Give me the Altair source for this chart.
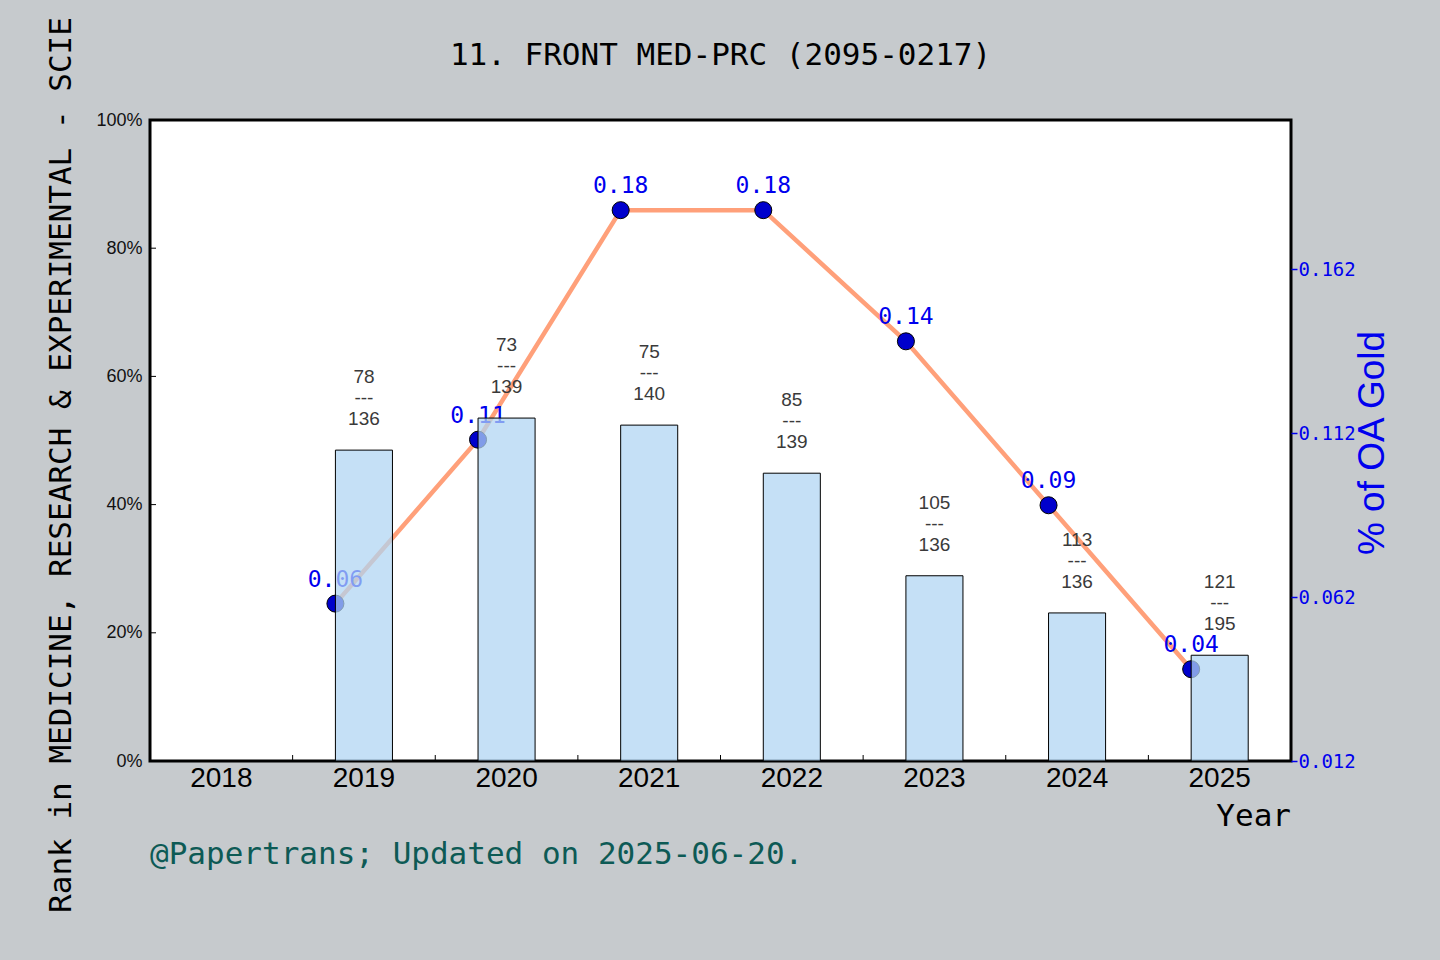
import altair as alt
import pandas as pd

# ---------------- data ----------------
years = [2018, 2019, 2020, 2021, 2022, 2023, 2024, 2025]
bar_years = [2019, 2020, 2021, 2022, 2023, 2024, 2025]
rank_pct = [0.485, 0.535, 0.524, 0.449, 0.289, 0.231, 0.165]
rank = [78, 73, 75, 85, 105, 113, 121]
total = [136, 139, 140, 139, 136, 136, 195]
oa_gold = [0.06, 0.11, 0.18, 0.18, 0.14, 0.09, 0.04]
oa_labels = ["0.06", "0.11", "0.18", "0.18", "0.14", "0.09", "0.04"]
left_ticks = [0.0, 0.2, 0.4, 0.6, 0.8, 1.0]
right_ticks = [0.012, 0.062, 0.112, 0.162]

title_text = "11. FRONT MED-PRC (2095-0217)"
left_title = "Rank in MEDICINE, RESEARCH & EXPERIMENTAL - SCIE"
right_title = "% of OA Gold"
x_title = "Year"
footer_text = "@Papertrans; Updated on 2025-06-20."

MONO = "DejaVu Sans Mono"
SANS = "Liberation Sans"
W, H = 1141, 641

bars_df = pd.DataFrame({
    "year": bar_years,
    "pct": rank_pct,
    "label": [f"{r}\n---\n{t}" for r, t in zip(rank, total)],
})
oa_df = pd.DataFrame({"year": bar_years, "oa": oa_gold, "lab": oa_labels})
lt_df = pd.DataFrame({"v": left_ticks})
xt_df = pd.DataFrame({"year": years})

xs = alt.Scale(type="band", domain=years, paddingInner=0, paddingOuter=0)
ys_left = alt.Scale(domain=[0, 1], nice=False, zero=False)
ys_right = alt.Scale(domain=[0.012, 0.2075], nice=False, zero=False)

x_axis = alt.Axis(title=None, labelFont=SANS, labelFontSize=28, labelColor="black",
                  ticks=False, domain=False, grid=False, labelPadding=3, labelAngle=0)

# ---------------- right-axis group (line + points) ----------------
line = alt.Chart(oa_df).mark_line(color="#ffa07a", strokeWidth=4.5).encode(
    x=alt.X("year:O", scale=xs, axis=x_axis, bandPosition=0.3),
    y=alt.Y("oa:Q", scale=ys_right,
            axis=alt.Axis(orient="right", title=None, values=right_ticks, format=".3f",
                          labelFont=MONO, labelFontSize=19, labelColor="#0000ee",
                          tickColor="#0000ee", tickSize=6, tickWidth=1.5,
                          domain=False, grid=False, labelPadding=1)),
)
points = alt.Chart(oa_df).mark_point(filled=True, shape="circle", size=290,
                                      fill="#0000cc", stroke="black",
                                      strokeWidth=1, opacity=1).encode(
    x=alt.X("year:O", scale=xs, bandPosition=0.3),
    y=alt.Y("oa:Q", scale=ys_right),
)
point_labels = alt.Chart(oa_df).mark_text(font=MONO, fontSize=23, color="#0000ee",
                                          baseline="middle", dy=-24).encode(
    x=alt.X("year:O", scale=xs, bandPosition=0.3),
    y=alt.Y("oa:Q", scale=ys_right),
    text="lab:N",
)
right_group = alt.layer(line, points, point_labels)

# ---------------- left-axis group (bars) ----------------
bars = alt.Chart(bars_df).mark_bar(width=alt.RelativeBandSize(0.4), fill="#b0d5f3",
                                   fillOpacity=0.735, stroke="black",
                                   strokeWidth=1).encode(
    x=alt.X("year:O", scale=xs),
    y=alt.Y("pct:Q", scale=ys_left,
            axis=alt.Axis(orient="left", title=None, values=left_ticks, format=".0%",
                          labelFont=SANS, labelFontSize=18, labelColor="#111111",
                          ticks=False, domain=False, grid=False, labelPadding=8)),
)
bar_labels = alt.Chart(bars_df).mark_text(font=SANS, fontSize=19, color="#3a3a3a",
                                          lineBreak="\n", lineHeight=21,
                                          baseline="middle", dy=-73).encode(
    x=alt.X("year:O", scale=xs),
    y=alt.Y("pct:Q", scale=ys_left),
    text="label:N",
)
left_ticks_rule = alt.Chart(lt_df).mark_rule(color="black", strokeWidth=1).encode(
    y=alt.Y("v:Q", scale=ys_left),
    x=alt.value(0), x2=alt.value(6),
)
x_ticks_rule = alt.Chart(xt_df).mark_rule(color="black", strokeWidth=1).encode(
    x=alt.X("year:O", scale=xs, bandPosition=0),
    y=alt.value(H), y2=alt.value(H - 6),
)

# ---------------- text annotations ----------------
def txt(s):
    return alt.Chart(pd.DataFrame({"t": [s]}))

title_mark = txt(title_text).mark_text(font=MONO, fontSize=31, color="black",
                                       align="center", baseline="middle").encode(
    text="t:N", x=alt.value(W / 2), y=alt.value(-64))
left_title_mark = txt(left_title).mark_text(font=MONO, fontSize=31, color="black",
                                            align="center", baseline="middle",
                                            angle=270).encode(
    text="t:N", x=alt.value(-88), y=alt.value(345))
right_title_mark = txt(right_title).mark_text(font=SANS, fontSize=37, color="#0000ee",
                                              align="center", baseline="middle",
                                              angle=270).encode(
    text="t:N", x=alt.value(1223), y=alt.value(323))
x_title_mark = txt(x_title).mark_text(font=MONO, fontSize=31, color="black",
                                      align="right", baseline="middle").encode(
    text="t:N", x=alt.value(W), y=alt.value(697))
footer_mark = txt(footer_text).mark_text(font=MONO, fontSize=31, color="#0d5a55",
                                         align="left", baseline="middle").encode(
    text="t:N", x=alt.value(0), y=alt.value(735))

left_group = alt.layer(bars, bar_labels, left_ticks_rule, x_ticks_rule,
                       title_mark, left_title_mark, right_title_mark,
                       x_title_mark, footer_mark)

chart = alt.layer(right_group, left_group).resolve_scale(
    y="independent"
).properties(
    width=W, height=H,
    autosize=alt.AutoSizeParams(type="none"),
    padding={"left": 150, "top": 120, "right": 149, "bottom": 199},
    background="#c6cacd",
).configure_view(
    stroke="black", strokeWidth=3, fill="white"
)

chart.save("out.html", embed_options={"renderer": "svg", "actions": False})
